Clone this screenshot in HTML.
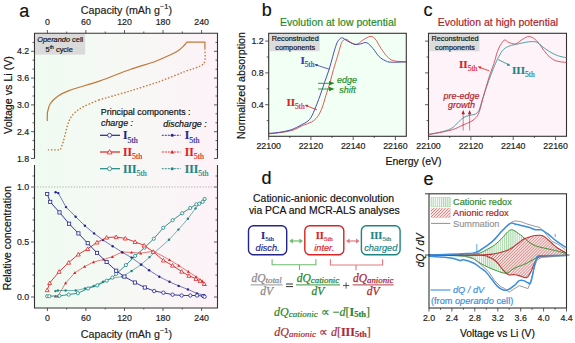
<!DOCTYPE html>
<html><head><meta charset="utf-8"><style>html,body{margin:0;padding:0;background:#fff;width:575px;height:343px;overflow:hidden}svg{display:block}</style></head>
<body><svg width="575" height="343" viewBox="0 0 575 343" font-family='"Liberation Sans", sans-serif'><defs><linearGradient id="ga" x1="0" x2="1" y1="0" y2="0"><stop offset="0" stop-color="#effbf1"/><stop offset="0.5" stop-color="#f7f8f5"/><stop offset="1" stop-color="#fdf2f8"/></linearGradient><pattern id="hg" width="2.1" height="4" patternUnits="userSpaceOnUse"><rect width="2.1" height="4" fill="#fbfdfb" fill-opacity="0.8"/><line x1="0.6" y1="0" x2="0.6" y2="4" stroke="#86c686" stroke-width="0.75"/></pattern><pattern id="hr" width="2.1" height="3" patternUnits="userSpaceOnUse" patternTransform="rotate(45)"><rect width="2.1" height="3" fill="#fffafa" fill-opacity="0.8"/><line x1="0.5" y1="0" x2="0.5" y2="3" stroke="#cc6060" stroke-width="0.75"/></pattern></defs><rect x="34.5" y="33.3" width="183.0" height="274.7" fill="url(#ga)"/><rect x="35.2" y="33.8" width="50" height="20.8" fill="#dadada"/><text x="60.2" y="41.7" font-size="7.4" fill="#111" text-anchor="middle" stroke="#111" stroke-width="0.18" ><tspan font-style="italic">Operando</tspan> cell</text><text x="59.2" y="52.3" font-size="7.4" fill="#111" text-anchor="middle" stroke="#111" stroke-width="0.18" >5<tspan font-size="5" dy="-3">th</tspan><tspan dy="3"> cycle</tspan></text><path d="M34.5,158.5 V33.3 H217.5 V158.5" fill="none" stroke="#333" stroke-width="1.1"/><path d="M34.5,165 V308 H217.5 V165" fill="none" stroke="#333" stroke-width="1.1"/><line x1="47.4" y1="33.3" x2="47.4" y2="30" stroke="#333" stroke-width="0.8"/><text x="47.4" y="25.3" font-size="8.8" fill="#222" text-anchor="middle" stroke="#222" stroke-width="0.18" >0</text><line x1="47.4" y1="308" x2="47.4" y2="311" stroke="#333" stroke-width="0.8"/><text x="47.4" y="321" font-size="8.8" fill="#222" text-anchor="middle" stroke="#222" stroke-width="0.18" >0</text><line x1="85.9" y1="33.3" x2="85.9" y2="30" stroke="#333" stroke-width="0.8"/><text x="85.94999999999999" y="25.3" font-size="8.8" fill="#222" text-anchor="middle" stroke="#222" stroke-width="0.18" >60</text><line x1="85.9" y1="308" x2="85.9" y2="311" stroke="#333" stroke-width="0.8"/><text x="85.94999999999999" y="321" font-size="8.8" fill="#222" text-anchor="middle" stroke="#222" stroke-width="0.18" >60</text><line x1="124.5" y1="33.3" x2="124.5" y2="30" stroke="#333" stroke-width="0.8"/><text x="124.5" y="25.3" font-size="8.8" fill="#222" text-anchor="middle" stroke="#222" stroke-width="0.18" >120</text><line x1="124.5" y1="308" x2="124.5" y2="311" stroke="#333" stroke-width="0.8"/><text x="124.5" y="321" font-size="8.8" fill="#222" text-anchor="middle" stroke="#222" stroke-width="0.18" >120</text><line x1="163.0" y1="33.3" x2="163.0" y2="30" stroke="#333" stroke-width="0.8"/><text x="163.04999999999998" y="25.3" font-size="8.8" fill="#222" text-anchor="middle" stroke="#222" stroke-width="0.18" >180</text><line x1="163.0" y1="308" x2="163.0" y2="311" stroke="#333" stroke-width="0.8"/><text x="163.04999999999998" y="321" font-size="8.8" fill="#222" text-anchor="middle" stroke="#222" stroke-width="0.18" >180</text><line x1="201.6" y1="33.3" x2="201.6" y2="30" stroke="#333" stroke-width="0.8"/><text x="201.6" y="25.3" font-size="8.8" fill="#222" text-anchor="middle" stroke="#222" stroke-width="0.18" >240</text><line x1="201.6" y1="308" x2="201.6" y2="311" stroke="#333" stroke-width="0.8"/><text x="201.6" y="321" font-size="8.8" fill="#222" text-anchor="middle" stroke="#222" stroke-width="0.18" >240</text><line x1="66.7" y1="33.3" x2="66.7" y2="31.5" stroke="#333" stroke-width="0.8"/><line x1="66.7" y1="308" x2="66.7" y2="309.5" stroke="#333" stroke-width="0.8"/><line x1="105.2" y1="33.3" x2="105.2" y2="31.5" stroke="#333" stroke-width="0.8"/><line x1="105.2" y1="308" x2="105.2" y2="309.5" stroke="#333" stroke-width="0.8"/><line x1="143.8" y1="33.3" x2="143.8" y2="31.5" stroke="#333" stroke-width="0.8"/><line x1="143.8" y1="308" x2="143.8" y2="309.5" stroke="#333" stroke-width="0.8"/><line x1="182.3" y1="33.3" x2="182.3" y2="31.5" stroke="#333" stroke-width="0.8"/><line x1="182.3" y1="308" x2="182.3" y2="309.5" stroke="#333" stroke-width="0.8"/><text x="126.4" y="14.2" font-size="10.7" fill="#222" text-anchor="middle" stroke="#222" stroke-width="0.18" >Capacity (mAh g<tspan font-size="7.5" dy="-5">−1</tspan><tspan dy="5">)</tspan></text><text x="126.4" y="338.2" font-size="10.7" fill="#222" text-anchor="middle" stroke="#222" stroke-width="0.18" >Capacity (mAh g<tspan font-size="7.5" dy="-5">−1</tspan><tspan dy="5">)</tspan></text><text x="24.2" y="16.5" font-size="18" fill="#111" text-anchor="middle" stroke="#111" stroke-width="0.18" >a</text><line x1="34.5" y1="51.3" x2="31" y2="51.3" stroke="#333" stroke-width="0.8"/><line x1="217.5" y1="51.3" x2="214" y2="51.3" stroke="#333" stroke-width="0.8"/><text x="29.2" y="54.4" font-size="8.8" fill="#222" text-anchor="end" stroke="#222" stroke-width="0.18" >4.2</text><line x1="34.5" y1="78.1" x2="31" y2="78.1" stroke="#333" stroke-width="0.8"/><line x1="217.5" y1="78.1" x2="214" y2="78.1" stroke="#333" stroke-width="0.8"/><text x="29.2" y="81.202" font-size="8.8" fill="#222" text-anchor="end" stroke="#222" stroke-width="0.18" >3.6</text><line x1="34.5" y1="104.9" x2="31" y2="104.9" stroke="#333" stroke-width="0.8"/><line x1="217.5" y1="104.9" x2="214" y2="104.9" stroke="#333" stroke-width="0.8"/><text x="29.2" y="108.004" font-size="8.8" fill="#222" text-anchor="end" stroke="#222" stroke-width="0.18" >3.0</text><line x1="34.5" y1="131.7" x2="31" y2="131.7" stroke="#333" stroke-width="0.8"/><line x1="217.5" y1="131.7" x2="214" y2="131.7" stroke="#333" stroke-width="0.8"/><text x="29.2" y="134.806" font-size="8.8" fill="#222" text-anchor="end" stroke="#222" stroke-width="0.18" >2.4</text><line x1="34.5" y1="158.5" x2="31" y2="158.5" stroke="#333" stroke-width="0.8"/><line x1="217.5" y1="158.5" x2="214" y2="158.5" stroke="#333" stroke-width="0.8"/><text x="29.2" y="161.60800000000003" font-size="8.8" fill="#222" text-anchor="end" stroke="#222" stroke-width="0.18" >1.8</text><line x1="34.5" y1="42.4" x2="32.5" y2="42.4" stroke="#333" stroke-width="0.8"/><line x1="217.5" y1="42.4" x2="215.5" y2="42.4" stroke="#333" stroke-width="0.8"/><line x1="34.5" y1="60.2" x2="32.5" y2="60.2" stroke="#333" stroke-width="0.8"/><line x1="217.5" y1="60.2" x2="215.5" y2="60.2" stroke="#333" stroke-width="0.8"/><line x1="34.5" y1="69.2" x2="32.5" y2="69.2" stroke="#333" stroke-width="0.8"/><line x1="217.5" y1="69.2" x2="215.5" y2="69.2" stroke="#333" stroke-width="0.8"/><line x1="34.5" y1="87.0" x2="32.5" y2="87.0" stroke="#333" stroke-width="0.8"/><line x1="217.5" y1="87.0" x2="215.5" y2="87.0" stroke="#333" stroke-width="0.8"/><line x1="34.5" y1="96.0" x2="32.5" y2="96.0" stroke="#333" stroke-width="0.8"/><line x1="217.5" y1="96.0" x2="215.5" y2="96.0" stroke="#333" stroke-width="0.8"/><line x1="34.5" y1="113.8" x2="32.5" y2="113.8" stroke="#333" stroke-width="0.8"/><line x1="217.5" y1="113.8" x2="215.5" y2="113.8" stroke="#333" stroke-width="0.8"/><line x1="34.5" y1="122.8" x2="32.5" y2="122.8" stroke="#333" stroke-width="0.8"/><line x1="217.5" y1="122.8" x2="215.5" y2="122.8" stroke="#333" stroke-width="0.8"/><line x1="34.5" y1="140.6" x2="32.5" y2="140.6" stroke="#333" stroke-width="0.8"/><line x1="217.5" y1="140.6" x2="215.5" y2="140.6" stroke="#333" stroke-width="0.8"/><line x1="34.5" y1="149.6" x2="32.5" y2="149.6" stroke="#333" stroke-width="0.8"/><line x1="217.5" y1="149.6" x2="215.5" y2="149.6" stroke="#333" stroke-width="0.8"/><text x="0" y="0" font-size="10.7" fill="#111" text-anchor="middle" stroke="#111" stroke-width="0.18" transform="translate(12.3,95) rotate(-90)">Voltage vs Li (V)</text><line x1="34.5" y1="187.0" x2="31" y2="187.0" stroke="#333" stroke-width="0.8"/><line x1="217.5" y1="187.0" x2="214" y2="187.0" stroke="#333" stroke-width="0.8"/><text x="29.2" y="190.1" font-size="8.8" fill="#222" text-anchor="end" stroke="#222" stroke-width="0.18" >1.0</text><line x1="34.5" y1="242.0" x2="31" y2="242.0" stroke="#333" stroke-width="0.8"/><line x1="217.5" y1="242.0" x2="214" y2="242.0" stroke="#333" stroke-width="0.8"/><text x="29.2" y="245.1" font-size="8.8" fill="#222" text-anchor="end" stroke="#222" stroke-width="0.18" >0.5</text><line x1="34.5" y1="297.0" x2="31" y2="297.0" stroke="#333" stroke-width="0.8"/><line x1="217.5" y1="297.0" x2="214" y2="297.0" stroke="#333" stroke-width="0.8"/><text x="29.2" y="300.1" font-size="8.8" fill="#222" text-anchor="end" stroke="#222" stroke-width="0.18" >0.0</text><line x1="34.5" y1="176.0" x2="32.5" y2="176.0" stroke="#333" stroke-width="0.8"/><line x1="217.5" y1="176.0" x2="215.5" y2="176.0" stroke="#333" stroke-width="0.8"/><line x1="34.5" y1="198.0" x2="32.5" y2="198.0" stroke="#333" stroke-width="0.8"/><line x1="217.5" y1="198.0" x2="215.5" y2="198.0" stroke="#333" stroke-width="0.8"/><line x1="34.5" y1="209.0" x2="32.5" y2="209.0" stroke="#333" stroke-width="0.8"/><line x1="217.5" y1="209.0" x2="215.5" y2="209.0" stroke="#333" stroke-width="0.8"/><line x1="34.5" y1="220.0" x2="32.5" y2="220.0" stroke="#333" stroke-width="0.8"/><line x1="217.5" y1="220.0" x2="215.5" y2="220.0" stroke="#333" stroke-width="0.8"/><line x1="34.5" y1="231.0" x2="32.5" y2="231.0" stroke="#333" stroke-width="0.8"/><line x1="217.5" y1="231.0" x2="215.5" y2="231.0" stroke="#333" stroke-width="0.8"/><line x1="34.5" y1="253.0" x2="32.5" y2="253.0" stroke="#333" stroke-width="0.8"/><line x1="217.5" y1="253.0" x2="215.5" y2="253.0" stroke="#333" stroke-width="0.8"/><line x1="34.5" y1="264.0" x2="32.5" y2="264.0" stroke="#333" stroke-width="0.8"/><line x1="217.5" y1="264.0" x2="215.5" y2="264.0" stroke="#333" stroke-width="0.8"/><line x1="34.5" y1="275.0" x2="32.5" y2="275.0" stroke="#333" stroke-width="0.8"/><line x1="217.5" y1="275.0" x2="215.5" y2="275.0" stroke="#333" stroke-width="0.8"/><line x1="34.5" y1="286.0" x2="32.5" y2="286.0" stroke="#333" stroke-width="0.8"/><line x1="217.5" y1="286.0" x2="215.5" y2="286.0" stroke="#333" stroke-width="0.8"/><line x1="34.5" y1="187" x2="217.5" y2="187" stroke="#999" stroke-width="0.8" stroke-dasharray="1.2,1.6"/><text x="0" y="0" font-size="10.5" fill="#111" text-anchor="middle" stroke="#111" stroke-width="0.18" transform="translate(11.2,238.2) rotate(-90)">Relative concentration</text><path d="M47.3,121.0 C47.3,119.6 47.0,115.3 47.5,112.4 C48.0,109.5 48.5,106.4 50.2,103.7 C51.9,101.0 54.4,98.6 57.5,96.4 C60.6,94.2 61.9,93.2 69.0,90.6 C76.1,88.0 89.8,84.4 100.0,80.9 C110.2,77.4 120.8,72.7 130.0,69.5 C139.2,66.3 148.3,63.9 155.0,61.5 C161.7,59.1 166.2,56.8 170.0,55.0 C173.8,53.2 175.5,52.4 177.7,51.0 C179.9,49.6 181.4,48.1 183.0,46.6 C184.6,45.1 186.3,42.9 187.0,42.2 H204.9 V48.4" fill="none" stroke="#c0783a" stroke-width="1.2"/><path d="M204.9,48.4 C204.9,50.4 205.6,57.7 204.9,60.6 C204.2,63.5 203.8,64.1 200.5,65.9 C197.2,67.7 191.8,68.9 185.0,71.5 C178.2,74.1 169.2,78.0 160.0,81.3 C150.8,84.5 140.0,88.0 130.0,91.0 C120.0,94.0 105.3,98.1 100.0,99.6 C94.7,101.1 101.0,99.0 98.3,100.2 C95.6,101.4 87.6,104.5 83.7,106.6 C79.8,108.6 77.5,110.1 75.0,112.5 C72.5,114.9 71.0,116.4 69.0,121.2 C67.0,126.0 64.7,136.8 63.3,141.6 C61.9,146.4 60.9,148.4 60.4,149.8 H47.9" fill="none" stroke="#c0783a" stroke-width="1.35" stroke-dasharray="1.5,1.8"/><text x="100.8" y="115.2" font-size="8.9" fill="#111" text-anchor="start" stroke="#111" stroke-width="0.18" >Principal components :</text><text x="101" y="126" font-size="8.9" fill="#111" text-anchor="start" stroke="#111" stroke-width="0.18" font-style="italic">charge :</text><text x="163.3" y="127.2" font-size="8.9" fill="#111" text-anchor="start" stroke="#111" stroke-width="0.18" font-style="italic">discharge :</text><line x1="100" y1="135.3" x2="120" y2="135.3" stroke="#24248f" stroke-width="1.2"/><circle cx="109.6" cy="135.3" r="2.0" fill="#fff" stroke="#24248f" stroke-width="0.8"/><text x="123" y="139.3" font-size="11.5" fill="#24248f" text-anchor="start" stroke="#24248f" stroke-width="0.18" font-family='"Liberation Serif", serif'><tspan font-weight="bold">I</tspan><tspan font-size="8" dy="3.3">5th</tspan></text><line x1="161.8" y1="135.3" x2="180.6" y2="135.3" stroke="#24248f" stroke-width="0.9" stroke-dasharray="2,1"/><circle cx="172.2" cy="135.3" r="1.5" fill="#24248f"/><text x="184.8" y="139.3" font-size="11.5" fill="#24248f" text-anchor="start" stroke="#24248f" stroke-width="0.18" font-family='"Liberation Serif", serif'><tspan font-weight="bold">I</tspan><tspan font-size="8" dy="3.3">5th</tspan></text><line x1="100" y1="152" x2="120" y2="152" stroke="#dc2222" stroke-width="1.2"/><path d="M109.6,149.6 L112.0,153.9 L107.2,153.9 Z" fill="#fff" stroke="#dc2222" stroke-width="0.8"/><text x="123" y="156" font-size="11.5" fill="#dc2222" text-anchor="start" stroke="#dc2222" stroke-width="0.18" font-family='"Liberation Serif", serif'><tspan font-weight="bold">II</tspan><tspan font-size="8" dy="3.3">5th</tspan></text><line x1="161.8" y1="152" x2="180.6" y2="152" stroke="#dc2222" stroke-width="0.9" stroke-dasharray="2,1"/><path d="M172.2,150.0 L174.2,153.6 L170.2,153.6 Z" fill="#dc2222"/><text x="184.8" y="156" font-size="11.5" fill="#dc2222" text-anchor="start" stroke="#dc2222" stroke-width="0.18" font-family='"Liberation Serif", serif'><tspan font-weight="bold">II</tspan><tspan font-size="8" dy="3.3">5th</tspan></text><line x1="100" y1="168.7" x2="120" y2="168.7" stroke="#1c8582" stroke-width="1.2"/><circle cx="109.6" cy="168.7" r="2.0" fill="#fff" stroke="#1c8582" stroke-width="0.8"/><text x="123" y="172.7" font-size="11.5" fill="#1c8582" text-anchor="start" stroke="#1c8582" stroke-width="0.18" font-family='"Liberation Serif", serif'><tspan font-weight="bold">III</tspan><tspan font-size="8" dy="3.3">5th</tspan></text><line x1="161.8" y1="168.7" x2="180.6" y2="168.7" stroke="#1c8582" stroke-width="0.9" stroke-dasharray="2,1"/><circle cx="172.2" cy="168.7" r="1.5" fill="#1c8582"/><text x="184.8" y="172.7" font-size="11.5" fill="#1c8582" text-anchor="start" stroke="#1c8582" stroke-width="0.18" font-family='"Liberation Serif", serif'><tspan font-weight="bold">III</tspan><tspan font-size="8" dy="3.3">5th</tspan></text><path d="M55.4,291.1 L57.9,290.5 L65.6,290.5 L75.8,290.5 L85.0,288.5 L93.7,286.0 L103.0,281.8 L112.4,278.1 L122.3,276.6 L131.6,271.0 L141.1,264.6 L149.5,257.1 L169.0,239.7 L178.4,229.6 L187.9,218.8 L195.5,208.4 L200.2,203.1 L204.0,199.9 L205.0,199.0" fill="none" stroke="#1c8582" stroke-width="0.6"/><circle cx="55.4" cy="291.1" r="1.2" fill="#1c8582"/><circle cx="57.9" cy="290.5" r="1.2" fill="#1c8582"/><circle cx="65.6" cy="290.5" r="1.2" fill="#1c8582"/><circle cx="75.8" cy="290.5" r="1.2" fill="#1c8582"/><circle cx="85.0" cy="288.5" r="1.2" fill="#1c8582"/><circle cx="93.7" cy="286.0" r="1.2" fill="#1c8582"/><circle cx="103.0" cy="281.8" r="1.2" fill="#1c8582"/><circle cx="112.4" cy="278.1" r="1.2" fill="#1c8582"/><circle cx="122.3" cy="276.6" r="1.2" fill="#1c8582"/><circle cx="131.6" cy="271.0" r="1.2" fill="#1c8582"/><circle cx="141.1" cy="264.6" r="1.2" fill="#1c8582"/><circle cx="149.5" cy="257.1" r="1.2" fill="#1c8582"/><circle cx="169.0" cy="239.7" r="1.2" fill="#1c8582"/><circle cx="178.4" cy="229.6" r="1.2" fill="#1c8582"/><circle cx="187.9" cy="218.8" r="1.2" fill="#1c8582"/><circle cx="195.5" cy="208.4" r="1.2" fill="#1c8582"/><circle cx="200.2" cy="203.1" r="1.2" fill="#1c8582"/><circle cx="204.0" cy="199.9" r="1.2" fill="#1c8582"/><circle cx="205.0" cy="199.0" r="1.2" fill="#1c8582"/><path d="M55.4,296.2 L57.9,296.2 L65.6,283.0 L74.8,272.8 L84.6,266.6 L93.5,262.0 L103.6,259.4 L112.4,256.7 L122.0,252.0 L131.5,252.4 L140.7,253.2 L153.6,251.2 L169.5,259.8 L178.7,265.5 L188.3,271.6 L196.0,276.7 L202.1,280.8 L205.2,284.9" fill="none" stroke="#dc2222" stroke-width="0.6"/><path d="M55.4,294.7 L56.9,297.4 L53.9,297.4 Z" fill="#dc2222"/><path d="M57.9,294.7 L59.4,297.4 L56.4,297.4 Z" fill="#dc2222"/><path d="M65.6,281.5 L67.1,284.2 L64.1,284.2 Z" fill="#dc2222"/><path d="M74.8,271.3 L76.3,274.0 L73.3,274.0 Z" fill="#dc2222"/><path d="M84.6,265.1 L86.1,267.8 L83.1,267.8 Z" fill="#dc2222"/><path d="M93.5,260.5 L95.0,263.2 L92.0,263.2 Z" fill="#dc2222"/><path d="M103.6,257.9 L105.1,260.6 L102.1,260.6 Z" fill="#dc2222"/><path d="M112.4,255.2 L113.9,257.9 L110.9,257.9 Z" fill="#dc2222"/><path d="M122.0,250.5 L123.5,253.2 L120.5,253.2 Z" fill="#dc2222"/><path d="M131.5,250.9 L133.0,253.6 L130.0,253.6 Z" fill="#dc2222"/><path d="M140.7,251.7 L142.2,254.4 L139.2,254.4 Z" fill="#dc2222"/><path d="M153.6,249.7 L155.1,252.4 L152.1,252.4 Z" fill="#dc2222"/><path d="M169.5,258.3 L171.0,261.0 L168.0,261.0 Z" fill="#dc2222"/><path d="M178.7,264.0 L180.2,266.7 L177.2,266.7 Z" fill="#dc2222"/><path d="M188.3,270.1 L189.8,272.8 L186.8,272.8 Z" fill="#dc2222"/><path d="M196.0,275.2 L197.5,277.9 L194.5,277.9 Z" fill="#dc2222"/><path d="M202.1,279.3 L203.6,282.0 L200.6,282.0 Z" fill="#dc2222"/><path d="M205.2,283.4 L206.7,286.1 L203.7,286.1 Z" fill="#dc2222"/><path d="M55.6,192.2 L58.3,193.1 L66.0,207.1 L75.6,216.7 L84.9,225.8 L94.1,233.4 L103.1,240.1 L112.7,246.2 L122.4,252.4 L131.6,257.6 L141.1,264.6 L149.1,270.2 L159.3,276.7 L169.5,281.8 L178.7,285.9 L187.9,289.4 L197.0,293.5 L204.2,295.1" fill="none" stroke="#24248f" stroke-width="0.6"/><circle cx="55.6" cy="192.2" r="1.2" fill="#24248f"/><circle cx="58.3" cy="193.1" r="1.2" fill="#24248f"/><circle cx="66.0" cy="207.1" r="1.2" fill="#24248f"/><circle cx="75.6" cy="216.7" r="1.2" fill="#24248f"/><circle cx="84.9" cy="225.8" r="1.2" fill="#24248f"/><circle cx="94.1" cy="233.4" r="1.2" fill="#24248f"/><circle cx="103.1" cy="240.1" r="1.2" fill="#24248f"/><circle cx="112.7" cy="246.2" r="1.2" fill="#24248f"/><circle cx="122.4" cy="252.4" r="1.2" fill="#24248f"/><circle cx="131.6" cy="257.6" r="1.2" fill="#24248f"/><circle cx="141.1" cy="264.6" r="1.2" fill="#24248f"/><circle cx="149.1" cy="270.2" r="1.2" fill="#24248f"/><circle cx="159.3" cy="276.7" r="1.2" fill="#24248f"/><circle cx="169.5" cy="281.8" r="1.2" fill="#24248f"/><circle cx="178.7" cy="285.9" r="1.2" fill="#24248f"/><circle cx="187.9" cy="289.4" r="1.2" fill="#24248f"/><circle cx="197.0" cy="293.5" r="1.2" fill="#24248f"/><circle cx="204.2" cy="295.1" r="1.2" fill="#24248f"/><path d="M47.2,296.2 L49.3,296.2 L59.5,295.8 L68.7,294.6 L77.9,293.2 L88.1,288.5 L97.3,285.4 L106.7,280.7 L112.4,277.6 L116.2,273.9 L125.9,265.1 L135.1,255.9 L144.6,247.6 L153.8,238.7 L163.3,227.8 L172.7,220.2 L182.2,213.2 L190.2,208.0 L196.4,204.3 L199.3,203.7 L202.7,201.8 L204.6,199.0" fill="none" stroke="#1c8582" stroke-width="0.9"/><circle cx="47.2" cy="296.2" r="1.6" fill="#fff" stroke="#1c8582" stroke-width="0.8"/><circle cx="49.3" cy="296.2" r="1.6" fill="#fff" stroke="#1c8582" stroke-width="0.8"/><circle cx="59.5" cy="295.8" r="1.6" fill="#fff" stroke="#1c8582" stroke-width="0.8"/><circle cx="68.7" cy="294.6" r="1.6" fill="#fff" stroke="#1c8582" stroke-width="0.8"/><circle cx="77.9" cy="293.2" r="1.6" fill="#fff" stroke="#1c8582" stroke-width="0.8"/><circle cx="88.1" cy="288.5" r="1.6" fill="#fff" stroke="#1c8582" stroke-width="0.8"/><circle cx="97.3" cy="285.4" r="1.6" fill="#fff" stroke="#1c8582" stroke-width="0.8"/><circle cx="106.7" cy="280.7" r="1.6" fill="#fff" stroke="#1c8582" stroke-width="0.8"/><circle cx="112.4" cy="277.6" r="1.6" fill="#fff" stroke="#1c8582" stroke-width="0.8"/><circle cx="116.2" cy="273.9" r="1.6" fill="#fff" stroke="#1c8582" stroke-width="0.8"/><circle cx="125.9" cy="265.1" r="1.6" fill="#fff" stroke="#1c8582" stroke-width="0.8"/><circle cx="135.1" cy="255.9" r="1.6" fill="#fff" stroke="#1c8582" stroke-width="0.8"/><circle cx="144.6" cy="247.6" r="1.6" fill="#fff" stroke="#1c8582" stroke-width="0.8"/><circle cx="153.8" cy="238.7" r="1.6" fill="#fff" stroke="#1c8582" stroke-width="0.8"/><circle cx="163.3" cy="227.8" r="1.6" fill="#fff" stroke="#1c8582" stroke-width="0.8"/><circle cx="172.7" cy="220.2" r="1.6" fill="#fff" stroke="#1c8582" stroke-width="0.8"/><circle cx="182.2" cy="213.2" r="1.6" fill="#fff" stroke="#1c8582" stroke-width="0.8"/><circle cx="190.2" cy="208.0" r="1.6" fill="#fff" stroke="#1c8582" stroke-width="0.8"/><circle cx="196.4" cy="204.3" r="1.6" fill="#fff" stroke="#1c8582" stroke-width="0.8"/><circle cx="199.3" cy="203.7" r="1.6" fill="#fff" stroke="#1c8582" stroke-width="0.8"/><circle cx="202.7" cy="201.8" r="1.6" fill="#fff" stroke="#1c8582" stroke-width="0.8"/><circle cx="204.6" cy="199.0" r="1.6" fill="#fff" stroke="#1c8582" stroke-width="0.8"/><path d="M47.2,290.1 L49.7,283.0 L59.1,271.7 L68.7,262.6 L78.3,254.4 L87.7,248.9 L97.0,242.4 L106.6,237.5 L116.2,237.0 L125.3,238.4 L135.1,241.9 L144.2,245.4 L153.2,251.8 L163.4,260.4 L172.6,265.5 L181.7,271.6 L188.9,275.7 L196.0,278.8 L200.1,280.8 L204.2,283.9" fill="none" stroke="#dc2222" stroke-width="0.9"/><path d="M47.2,288.1 L49.2,291.7 L45.2,291.7 Z" fill="#fff" stroke="#dc2222" stroke-width="0.8"/><path d="M49.7,281.0 L51.7,284.6 L47.7,284.6 Z" fill="#fff" stroke="#dc2222" stroke-width="0.8"/><path d="M59.1,269.7 L61.1,273.3 L57.1,273.3 Z" fill="#fff" stroke="#dc2222" stroke-width="0.8"/><path d="M68.7,260.6 L70.7,264.2 L66.7,264.2 Z" fill="#fff" stroke="#dc2222" stroke-width="0.8"/><path d="M78.3,252.4 L80.3,256.0 L76.3,256.0 Z" fill="#fff" stroke="#dc2222" stroke-width="0.8"/><path d="M87.7,246.9 L89.7,250.5 L85.7,250.5 Z" fill="#fff" stroke="#dc2222" stroke-width="0.8"/><path d="M97.0,240.4 L99.0,244.0 L95.0,244.0 Z" fill="#fff" stroke="#dc2222" stroke-width="0.8"/><path d="M106.6,235.5 L108.6,239.1 L104.6,239.1 Z" fill="#fff" stroke="#dc2222" stroke-width="0.8"/><path d="M116.2,235.0 L118.2,238.6 L114.2,238.6 Z" fill="#fff" stroke="#dc2222" stroke-width="0.8"/><path d="M125.3,236.4 L127.3,240.0 L123.3,240.0 Z" fill="#fff" stroke="#dc2222" stroke-width="0.8"/><path d="M135.1,239.9 L137.1,243.5 L133.1,243.5 Z" fill="#fff" stroke="#dc2222" stroke-width="0.8"/><path d="M144.2,243.4 L146.2,247.0 L142.2,247.0 Z" fill="#fff" stroke="#dc2222" stroke-width="0.8"/><path d="M153.2,249.8 L155.2,253.4 L151.2,253.4 Z" fill="#fff" stroke="#dc2222" stroke-width="0.8"/><path d="M163.4,258.4 L165.4,262.0 L161.4,262.0 Z" fill="#fff" stroke="#dc2222" stroke-width="0.8"/><path d="M172.6,263.5 L174.6,267.1 L170.6,267.1 Z" fill="#fff" stroke="#dc2222" stroke-width="0.8"/><path d="M181.7,269.6 L183.7,273.2 L179.7,273.2 Z" fill="#fff" stroke="#dc2222" stroke-width="0.8"/><path d="M188.9,273.7 L190.9,277.3 L186.9,277.3 Z" fill="#fff" stroke="#dc2222" stroke-width="0.8"/><path d="M196.0,276.8 L198.0,280.4 L194.0,280.4 Z" fill="#fff" stroke="#dc2222" stroke-width="0.8"/><path d="M200.1,278.8 L202.1,282.4 L198.1,282.4 Z" fill="#fff" stroke="#dc2222" stroke-width="0.8"/><path d="M204.2,281.9 L206.2,285.5 L202.2,285.5 Z" fill="#fff" stroke="#dc2222" stroke-width="0.8"/><path d="M47.2,194.0 L50.2,201.9 L59.5,212.4 L69.1,223.7 L78.4,233.4 L87.7,243.2 L97.0,252.9 L106.6,262.0 L116.2,270.7 L124.4,276.6 L134.9,282.5 L144.8,287.5 L154.2,291.0 L163.4,292.7 L172.6,294.7 L181.7,295.5 L190.3,295.5 L197.0,295.5 L203.2,296.1 L204.6,296.7" fill="none" stroke="#24248f" stroke-width="0.9"/><rect x="45.6" y="192.4" width="3.2" height="3.2" fill="#fff" stroke="#24248f" stroke-width="0.8"/><rect x="48.6" y="200.3" width="3.2" height="3.2" fill="#fff" stroke="#24248f" stroke-width="0.8"/><rect x="57.9" y="210.8" width="3.2" height="3.2" fill="#fff" stroke="#24248f" stroke-width="0.8"/><rect x="67.5" y="222.1" width="3.2" height="3.2" fill="#fff" stroke="#24248f" stroke-width="0.8"/><rect x="76.8" y="231.8" width="3.2" height="3.2" fill="#fff" stroke="#24248f" stroke-width="0.8"/><rect x="86.1" y="241.6" width="3.2" height="3.2" fill="#fff" stroke="#24248f" stroke-width="0.8"/><rect x="95.4" y="251.3" width="3.2" height="3.2" fill="#fff" stroke="#24248f" stroke-width="0.8"/><rect x="105.0" y="260.4" width="3.2" height="3.2" fill="#fff" stroke="#24248f" stroke-width="0.8"/><rect x="114.6" y="269.1" width="3.2" height="3.2" fill="#fff" stroke="#24248f" stroke-width="0.8"/><rect x="122.8" y="275.0" width="3.2" height="3.2" fill="#fff" stroke="#24248f" stroke-width="0.8"/><rect x="133.3" y="280.9" width="3.2" height="3.2" fill="#fff" stroke="#24248f" stroke-width="0.8"/><rect x="143.2" y="285.9" width="3.2" height="3.2" fill="#fff" stroke="#24248f" stroke-width="0.8"/><circle cx="154.2" cy="291.0" r="1.7" fill="#fff" stroke="#24248f" stroke-width="0.8"/><circle cx="163.4" cy="292.7" r="1.7" fill="#fff" stroke="#24248f" stroke-width="0.8"/><circle cx="172.6" cy="294.7" r="1.7" fill="#fff" stroke="#24248f" stroke-width="0.8"/><circle cx="181.7" cy="295.5" r="1.7" fill="#fff" stroke="#24248f" stroke-width="0.8"/><circle cx="190.3" cy="295.5" r="1.7" fill="#fff" stroke="#24248f" stroke-width="0.8"/><circle cx="197.0" cy="295.5" r="1.7" fill="#fff" stroke="#24248f" stroke-width="0.8"/><circle cx="203.2" cy="296.1" r="1.7" fill="#fff" stroke="#24248f" stroke-width="0.8"/><circle cx="204.6" cy="296.7" r="1.7" fill="#fff" stroke="#24248f" stroke-width="0.8"/><rect x="268.7" y="33.3" width="137.60000000000002" height="103.00000000000001" fill="#f2fff4"/><rect x="269.7" y="34" width="50" height="17.3" fill="#dcdcdc"/><text x="295.2" y="40.5" font-size="7.3" fill="#111" text-anchor="middle" stroke="#111" stroke-width="0.18" >Reconstructed</text><text x="295.2" y="49.8" font-size="7.3" fill="#111" text-anchor="middle" stroke="#111" stroke-width="0.18" >components</text><rect x="268.7" y="33.3" width="137.60000000000002" height="103.00000000000001" fill="none" stroke="#333" stroke-width="1.1"/><line x1="268.7" y1="136.3" x2="268.7" y2="140" stroke="#333" stroke-width="0.8"/><text x="268.7" y="148.7" font-size="8.8" fill="#222" text-anchor="middle" stroke="#222" stroke-width="0.18" >22100</text><line x1="289.8" y1="136.3" x2="289.8" y2="138" stroke="#333" stroke-width="0.8"/><line x1="310.9" y1="136.3" x2="310.9" y2="140" stroke="#333" stroke-width="0.8"/><text x="310.93333333333334" y="148.7" font-size="8.8" fill="#222" text-anchor="middle" stroke="#222" stroke-width="0.18" >22120</text><line x1="332.1" y1="136.3" x2="332.1" y2="138" stroke="#333" stroke-width="0.8"/><line x1="353.2" y1="136.3" x2="353.2" y2="140" stroke="#333" stroke-width="0.8"/><text x="353.1666666666667" y="148.7" font-size="8.8" fill="#222" text-anchor="middle" stroke="#222" stroke-width="0.18" >22140</text><line x1="374.3" y1="136.3" x2="374.3" y2="138" stroke="#333" stroke-width="0.8"/><line x1="395.4" y1="136.3" x2="395.4" y2="140" stroke="#333" stroke-width="0.8"/><text x="395.40000000000003" y="148.7" font-size="8.8" fill="#222" text-anchor="middle" stroke="#222" stroke-width="0.18" >22160</text><line x1="268.7" y1="41.1" x2="265.2" y2="41.1" stroke="#333" stroke-width="0.8"/><text x="263.7" y="44.20000000000001" font-size="8.8" fill="#222" text-anchor="end" stroke="#222" stroke-width="0.18" >1.2</text><line x1="268.7" y1="57.0" x2="266.7" y2="57.0" stroke="#333" stroke-width="0.8"/><line x1="268.7" y1="72.9" x2="265.2" y2="72.9" stroke="#333" stroke-width="0.8"/><text x="263.7" y="76.0" font-size="8.8" fill="#222" text-anchor="end" stroke="#222" stroke-width="0.18" >0.8</text><line x1="268.7" y1="88.8" x2="266.7" y2="88.8" stroke="#333" stroke-width="0.8"/><line x1="268.7" y1="104.7" x2="265.2" y2="104.7" stroke="#333" stroke-width="0.8"/><text x="263.7" y="107.8" font-size="8.8" fill="#222" text-anchor="end" stroke="#222" stroke-width="0.18" >0.4</text><line x1="268.7" y1="120.6" x2="266.7" y2="120.6" stroke="#333" stroke-width="0.8"/><rect x="428.5" y="33.3" width="138.0" height="103.00000000000001" fill="#fef3f9"/><rect x="429.5" y="34" width="50" height="17.3" fill="#dcdcdc"/><text x="455.0" y="40.5" font-size="7.3" fill="#111" text-anchor="middle" stroke="#111" stroke-width="0.18" >Reconstructed</text><text x="455.0" y="49.8" font-size="7.3" fill="#111" text-anchor="middle" stroke="#111" stroke-width="0.18" >components</text><rect x="428.5" y="33.3" width="138.0" height="103.00000000000001" fill="none" stroke="#333" stroke-width="1.1"/><line x1="428.5" y1="136.3" x2="428.5" y2="140" stroke="#333" stroke-width="0.8"/><text x="428.5" y="148.7" font-size="8.8" fill="#222" text-anchor="middle" stroke="#222" stroke-width="0.18" >22100</text><line x1="449.7" y1="136.3" x2="449.7" y2="138" stroke="#333" stroke-width="0.8"/><line x1="470.9" y1="136.3" x2="470.9" y2="140" stroke="#333" stroke-width="0.8"/><text x="470.8666666666667" y="148.7" font-size="8.8" fill="#222" text-anchor="middle" stroke="#222" stroke-width="0.18" >22120</text><line x1="492.1" y1="136.3" x2="492.1" y2="138" stroke="#333" stroke-width="0.8"/><line x1="513.2" y1="136.3" x2="513.2" y2="140" stroke="#333" stroke-width="0.8"/><text x="513.2333333333333" y="148.7" font-size="8.8" fill="#222" text-anchor="middle" stroke="#222" stroke-width="0.18" >22140</text><line x1="534.4" y1="136.3" x2="534.4" y2="138" stroke="#333" stroke-width="0.8"/><line x1="555.6" y1="136.3" x2="555.6" y2="140" stroke="#333" stroke-width="0.8"/><text x="555.6" y="148.7" font-size="8.8" fill="#222" text-anchor="middle" stroke="#222" stroke-width="0.18" >22160</text><line x1="428.5" y1="41.1" x2="425.0" y2="41.1" stroke="#333" stroke-width="0.8"/><line x1="428.5" y1="57.0" x2="426.5" y2="57.0" stroke="#333" stroke-width="0.8"/><line x1="428.5" y1="72.9" x2="425.0" y2="72.9" stroke="#333" stroke-width="0.8"/><line x1="428.5" y1="88.8" x2="426.5" y2="88.8" stroke="#333" stroke-width="0.8"/><line x1="428.5" y1="104.7" x2="425.0" y2="104.7" stroke="#333" stroke-width="0.8"/><line x1="428.5" y1="120.6" x2="426.5" y2="120.6" stroke="#333" stroke-width="0.8"/><text x="266.8" y="16.2" font-size="18" fill="#111" text-anchor="middle" stroke="#111" stroke-width="0.18" >b</text><text x="428" y="16.2" font-size="18" fill="#111" text-anchor="middle" stroke="#111" stroke-width="0.18" >c</text><text x="338" y="26" font-size="10.5" fill="#1f8c1f" text-anchor="middle" stroke="#1f8c1f" stroke-width="0.18" >Evolution at low potential</text><text x="498" y="26" font-size="10.5" fill="#b01c28" text-anchor="middle" stroke="#b01c28" stroke-width="0.18" >Evolution at high potential</text><text x="413.5" y="165" font-size="10.5" fill="#111" text-anchor="middle" stroke="#111" stroke-width="0.18" >Energy (eV)</text><text x="0" y="0" font-size="10.7" fill="#111" text-anchor="middle" stroke="#111" stroke-width="0.18" transform="translate(244.8,85.5) rotate(-90)">Normalized absorption</text><path d="M268.7,133.9 C272.4,133.4 285.2,132.2 290.8,130.8 C296.4,129.4 299.1,127.0 302.5,125.5 C305.9,124.0 309.0,123.5 311.5,122.0 C314.0,120.5 315.8,119.1 317.5,116.8 C319.2,114.5 320.6,111.5 322.0,108.0 C323.4,104.5 324.5,100.0 325.8,95.8 C327.1,91.5 328.7,86.9 330.0,82.5 C331.3,78.1 332.2,73.9 333.5,69.5 C334.8,65.1 336.3,60.2 337.5,56.3 C338.7,52.4 339.7,48.5 340.5,46.0 C341.3,43.5 341.6,42.6 342.3,41.5 C343.0,40.4 343.9,39.7 344.8,39.4 C345.7,39.1 346.6,39.3 347.5,39.8 C348.4,40.3 348.9,41.5 350.4,42.2 C351.9,43.0 354.4,44.6 356.5,44.3 C358.6,44.0 360.5,41.5 362.7,40.2 C364.9,38.9 367.8,36.8 369.8,36.5 C371.8,36.2 373.0,36.6 374.9,38.6 C376.8,40.6 379.0,45.4 381.0,48.4 C383.0,51.4 385.1,54.5 387.1,56.5 C389.2,58.5 390.2,59.7 393.3,60.6 C396.4,61.5 403.9,61.8 406.0,62.0" fill="none" stroke="#e04848" stroke-width="0.9"/><path d="M268.7,133.4 C270.3,133.2 274.8,133.1 278.5,132.5 C282.2,131.9 286.9,131.2 290.8,129.9 C294.7,128.6 298.8,126.3 301.9,124.6 C305.0,122.9 307.4,121.9 309.5,119.5 C311.6,117.1 312.8,114.0 314.5,110.0 C316.2,106.0 318.3,100.4 320.0,95.8 C321.7,91.2 323.0,86.9 324.5,82.5 C326.0,78.1 327.7,73.9 329.1,69.5 C330.5,65.1 331.6,60.5 332.8,56.3 C334.0,52.0 335.4,46.8 336.5,44.0 C337.6,41.2 338.4,40.5 339.2,39.5 C340.0,38.5 340.7,38.0 341.5,37.9 C342.3,37.8 343.2,38.2 344.0,38.6 C344.8,39.0 344.6,39.5 346.3,40.4 C348.1,41.3 352.1,43.7 354.5,44.3 C356.9,44.9 358.6,44.2 360.6,43.9 C362.6,43.6 364.6,42.0 366.7,42.7 C368.8,43.5 370.8,46.1 372.9,48.4 C374.9,50.7 377.0,54.5 379.0,56.5 C381.0,58.5 383.1,59.6 385.1,60.6 C387.1,61.6 387.7,62.0 391.2,62.2 C394.7,62.4 403.5,61.9 406.0,61.8" fill="none" stroke="#3a3aa8" stroke-width="0.9"/><text x="300.5" y="63.7" font-size="11.2" fill="#3a3aa8" text-anchor="start" stroke="#3a3aa8" stroke-width="0.18" font-family='"Liberation Serif", serif'><tspan font-weight="bold">I</tspan><tspan font-size="7.5" dy="3.3">5th</tspan></text><path d="M315.3,64.7 L329.5,69.3" stroke="#3a3aa8" stroke-width="0.8"/><path d="M314.5,64.4 l3.5,-0.4 l-1,2.5 z" fill="#3a3aa8"/><text x="286.4" y="105.5" font-size="11.2" fill="#dc2222" text-anchor="start" stroke="#dc2222" stroke-width="0.18" font-family='"Liberation Serif", serif'><tspan font-weight="bold">II</tspan><tspan font-size="7.5" dy="3.3">5th</tspan></text><path d="M305.6,105.4 L317,109.8" stroke="#dc2222" stroke-width="0.8"/><path d="M304.8,105 l3.6,-0.2 l-1.2,2.5 z" fill="#dc2222"/><line x1="318" y1="83.3" x2="330" y2="83.3" stroke="#1f8c1f" stroke-width="0.9"/><path d="M334.5,83.3 l-5.5,-2.2 v4.4 z" fill="#1f8c1f"/><line x1="318" y1="89" x2="330" y2="89" stroke="#1f8c1f" stroke-width="0.9"/><path d="M334.5,89 l-5.5,-2.2 v4.4 z" fill="#1f8c1f"/><text x="347" y="83" font-size="9" fill="#1f8c1f" text-anchor="middle" stroke="#1f8c1f" stroke-width="0.18" font-style="italic">edge</text><text x="347.5" y="93" font-size="9" fill="#1f8c1f" text-anchor="middle" stroke="#1f8c1f" stroke-width="0.18" font-style="italic">shift</text><path d="M428.5,134.2 C430.4,133.9 435.9,133.2 439.7,132.3 C443.5,131.4 448.1,130.3 451.3,128.5 C454.5,126.7 456.9,123.4 459.0,121.5 C461.1,119.6 462.3,118.3 464.0,117.3 C465.7,116.3 467.3,116.0 469.0,115.5 C470.7,115.0 472.7,115.0 474.0,114.6 C475.3,114.2 476.1,113.9 477.0,113.0 C477.9,112.1 478.6,111.3 479.5,109.0 C480.4,106.7 481.3,102.8 482.5,99.0 C483.7,95.2 485.3,90.5 486.7,86.5 C488.1,82.5 489.4,78.8 490.9,74.9 C492.4,71.0 494.2,66.4 495.6,63.3 C497.0,60.2 497.6,58.6 499.0,56.3 C500.4,54.0 501.9,51.0 503.7,49.3 C505.5,47.5 507.9,46.6 510.0,45.8 C512.1,45.0 513.4,45.0 516.5,44.3 C519.6,43.6 525.4,42.1 528.8,41.8 C532.2,41.4 534.7,41.5 536.9,42.2 C539.1,43.0 540.0,44.8 542.0,46.3 C544.0,47.8 546.7,49.9 549.2,51.4 C551.8,52.9 554.4,54.4 557.3,55.5 C560.2,56.6 565.0,57.4 566.5,57.8" fill="none" stroke="#3a9a9c" stroke-width="0.9"/><path d="M428.5,134.7 C432.3,133.9 445.6,131.6 451.3,130.0 C457.1,128.4 459.7,126.4 463.0,125.0 C466.3,123.6 468.8,122.8 471.0,121.5 C473.2,120.2 475.1,118.8 476.5,117.0 C477.9,115.2 478.5,113.8 479.5,111.0 C480.5,108.2 481.4,104.1 482.5,100.0 C483.6,95.9 485.1,90.7 486.3,86.5 C487.5,82.3 488.5,78.8 489.8,74.9 C491.1,71.0 492.7,67.2 494.0,63.3 C495.3,59.4 496.2,54.9 497.4,51.6 C498.6,48.3 500.1,45.4 501.4,43.5 C502.6,41.6 503.7,40.2 504.9,40.0 C506.1,39.8 506.6,41.6 508.4,42.2 C510.2,42.9 513.1,44.4 515.5,43.9 C517.9,43.4 520.5,40.4 522.7,39.2 C524.9,38.0 526.8,36.5 528.8,36.5 C530.8,36.5 532.9,37.6 534.9,39.2 C536.9,40.8 539.0,43.8 541.0,46.3 C543.0,48.8 544.7,52.1 547.1,54.5 C549.5,56.9 552.1,59.3 555.3,60.6 C558.5,61.9 564.6,62.2 566.5,62.5" fill="none" stroke="#d04a58" stroke-width="0.9"/><text x="459" y="68" font-size="11.2" fill="#dc2222" text-anchor="start" stroke="#dc2222" stroke-width="0.18" font-family='"Liberation Serif", serif'><tspan font-weight="bold">II</tspan><tspan font-size="7.5" dy="3.3">5th</tspan></text><path d="M478.7,67 L489.2,70.9" stroke="#dc2222" stroke-width="0.8"/><path d="M477.9,66.6 l3.6,-0.2 l-1.2,2.5 z" fill="#dc2222"/><text x="512" y="73.9" font-size="11.2" fill="#1c8582" text-anchor="start" stroke="#1c8582" stroke-width="0.18" font-family='"Liberation Serif", serif'><tspan font-weight="bold">III</tspan><tspan font-size="7.5" dy="3.3">5th</tspan></text><path d="M498.2,59.6 L509.4,65.1" stroke="#1c8582" stroke-width="0.8"/><path d="M510.4,65.6 l-3.6,0.2 l1.3,-2.5 z" fill="#1c8582"/><text x="461.5" y="98.5" font-size="9" fill="#b01c28" text-anchor="middle" stroke="#b01c28" stroke-width="0.18" font-style="italic">pre-edge</text><text x="461.5" y="107.8" font-size="9" fill="#b01c28" text-anchor="middle" stroke="#b01c28" stroke-width="0.18" font-style="italic">growth</text><line x1="463.2" y1="130.5" x2="463.2" y2="114" stroke="#b01c28" stroke-width="0.55"/><path d="M463.2,110 l-1.7,4.3 h3.4 z" fill="#b01c28"/><line x1="469.6" y1="130.5" x2="469.6" y2="114" stroke="#b01c28" stroke-width="0.55"/><path d="M469.6,110 l-1.7,4.3 h3.4 z" fill="#b01c28"/><text x="266.6" y="184.4" font-size="18" fill="#111" text-anchor="middle" stroke="#111" stroke-width="0.18" >d</text><text x="323.6" y="202.3" font-size="10.4" fill="#111" text-anchor="middle" stroke="#111" stroke-width="0.18" >Cationic-anionic deconvolution</text><text x="324.3" y="214.3" font-size="10.4" fill="#111" text-anchor="middle" stroke="#111" stroke-width="0.18" >via PCA and MCR-ALS analyses</text><rect x="248.5" y="225.8" width="38.19999999999999" height="29" rx="5" fill="#fff" stroke="#24248f" stroke-width="1.4"/><text x="267.6" y="238.8" font-size="10.5" fill="#24248f" text-anchor="middle" stroke="#24248f" stroke-width="0.18" font-family='"Liberation Serif", serif'><tspan font-weight="bold">I</tspan><tspan font-size="7" dy="2.5">5th</tspan></text><text x="267.6" y="250.5" font-size="9.2" fill="#24248f" text-anchor="middle" stroke="#24248f" stroke-width="0.18" font-style="italic">disch.</text><rect x="304.8" y="225.8" width="39.0" height="29" rx="5" fill="#fff" stroke="#dc2222" stroke-width="1.4"/><text x="324.3" y="238.8" font-size="10.5" fill="#dc2222" text-anchor="middle" stroke="#dc2222" stroke-width="0.18" font-family='"Liberation Serif", serif'><tspan font-weight="bold">II</tspan><tspan font-size="7" dy="2.5">5th</tspan></text><text x="324.3" y="250.5" font-size="9.2" fill="#dc2222" text-anchor="middle" stroke="#dc2222" stroke-width="0.18" font-style="italic">inter.</text><rect x="361.4" y="225.8" width="38.700000000000045" height="29" rx="5" fill="#fff" stroke="#1c8582" stroke-width="1.4"/><text x="380.75" y="238.8" font-size="10.5" fill="#1c8582" text-anchor="middle" stroke="#1c8582" stroke-width="0.18" font-family='"Liberation Serif", serif'><tspan font-weight="bold">III</tspan><tspan font-size="7" dy="2.5">5th</tspan></text><text x="380.75" y="250.5" font-size="9.2" fill="#1c8582" text-anchor="middle" stroke="#1c8582" stroke-width="0.18" font-style="italic">charged</text><line x1="292" y1="241" x2="300.5" y2="241" stroke="#6cbd6c" stroke-width="1.2"/><path d="M289.3,241 l3.6,-2.4 v4.8 z M303,241 l-3.6,-2.4 v4.8 z" fill="#6cbd6c"/><line x1="349" y1="241" x2="357" y2="241" stroke="#e07a80" stroke-width="1.2"/><path d="M346,241 l3.6,-2.4 v4.8 z M359.6,241 l-3.6,-2.4 v4.8 z" fill="#e07a80"/><path d="M272.1,259.2 V264.7 H315.9 V259.2 M299.5,264.7 V270" fill="none" stroke="#6cbd6c" stroke-width="1.1"/><path d="M330.4,259.2 V265 H382.6 V259.2 M356,265 V270.3" fill="none" stroke="#e07a80" stroke-width="1.1"/><text x="266.6" y="281.6" font-size="11.5" fill="#8a8a8a" text-anchor="middle" font-family='"Liberation Serif", serif' font-style="italic" stroke-width="0.25" stroke="#8a8a8a">dQ<tspan font-size="8.8" dy="1">total</tspan></text><line x1="250.60000000000002" y1="284.9" x2="282.6" y2="284.9" stroke="#8a8a8a" stroke-width="0.9"/><text x="266.6" y="295.3" font-size="11.5" fill="#8a8a8a" text-anchor="middle" font-family='"Liberation Serif", serif' font-style="italic" stroke-width="0.25" stroke="#8a8a8a">dV</text><path d="M286,284 H293 M286,286.6 H293" stroke="#333" stroke-width="1"/><text x="318" y="281.6" font-size="11.5" fill="#2a852a" text-anchor="middle" font-family='"Liberation Serif", serif' font-style="italic" stroke-width="0.25" stroke="#2a852a">dQ<tspan font-size="8.8" dy="1">cationic</tspan></text><line x1="296.0" y1="284.9" x2="340.0" y2="284.9" stroke="#2a852a" stroke-width="0.9"/><text x="318" y="295.3" font-size="11.5" fill="#2a852a" text-anchor="middle" font-family='"Liberation Serif", serif' font-style="italic" stroke-width="0.25" stroke="#2a852a">dV</text><path d="M343,285.5 H349.2 M346.1,282.4 V288.6" stroke="#444" stroke-width="0.9"/><text x="373.2" y="281.6" font-size="11.5" fill="#a82a34" text-anchor="middle" font-family='"Liberation Serif", serif' font-style="italic" stroke-width="0.25" stroke="#a82a34">dQ<tspan font-size="8.8" dy="1">anionic</tspan></text><line x1="352.7" y1="284.9" x2="393.7" y2="284.9" stroke="#a82a34" stroke-width="0.9"/><text x="373.2" y="295.3" font-size="11.5" fill="#a82a34" text-anchor="middle" font-family='"Liberation Serif", serif' font-style="italic" stroke-width="0.25" stroke="#a82a34">dV</text><text x="322" y="315.5" font-size="12" fill="#2a852a" text-anchor="middle" font-family='"Liberation Serif", serif' stroke="#2a852a" stroke-width="0.2"><tspan font-style="italic">dQ<tspan font-size="9" dy="1">cationic</tspan></tspan><tspan dy="-1"> ∝ −</tspan><tspan font-style="italic">d</tspan>[<tspan font-weight="bold">I</tspan><tspan font-size="8.5" dy="1" font-weight="bold">5th</tspan><tspan dy="-1">]</tspan></text><text x="322.5" y="335.6" font-size="12" fill="#a82a34" text-anchor="middle" font-family='"Liberation Serif", serif' stroke="#a82a34" stroke-width="0.2"><tspan font-style="italic">dQ<tspan font-size="9" dy="1">anionic</tspan></tspan><tspan dy="-1"> ∝ </tspan><tspan font-style="italic">d</tspan>[<tspan font-weight="bold">III</tspan><tspan font-size="8.5" dy="1" font-weight="bold">5th</tspan><tspan dy="-1">]</tspan></text><text x="428.5" y="184.6" font-size="18" fill="#111" text-anchor="middle" stroke="#111" stroke-width="0.18" >e</text><line x1="425" y1="255" x2="569.5" y2="255" stroke="#333" stroke-width="0.9"/><path d="M428.5,255.0 C434.9,255.0 459.8,255.1 467.0,255.0 C474.2,254.9 469.8,254.9 472.0,254.6 C474.2,254.3 477.4,253.9 480.0,253.0 C482.6,252.1 484.9,250.6 487.3,249.3 C489.7,248.0 492.2,246.8 494.6,245.0 C497.0,243.2 499.6,240.6 501.8,238.4 C504.0,236.2 506.1,233.2 507.7,231.8 C509.3,230.4 510.1,229.8 511.3,229.7 C512.5,229.6 513.2,230.0 515.0,231.1 C516.8,232.2 520.0,234.5 522.2,236.2 C524.4,237.9 526.0,239.8 528.0,241.3 C530.0,242.8 531.9,244.0 533.9,245.0 C535.9,246.0 536.5,246.2 540.0,247.1 C543.5,248.0 550.9,249.4 555.2,250.5 C559.5,251.6 563.8,252.8 565.7,253.5 C567.6,254.2 566.4,254.6 566.5,254.8 L566.5,255.2 C562.3,255.4 546.2,256.1 541.2,256.5 C536.2,256.9 538.5,256.8 536.8,257.5 C535.1,258.2 533.1,259.7 530.9,260.9 C528.7,262.1 525.9,263.6 523.7,264.6 C521.5,265.6 519.8,265.9 517.8,266.7 C515.8,267.5 513.9,268.6 512.0,269.7 C510.1,270.8 508.6,273.1 506.2,273.3 C503.8,273.5 500.4,272.1 497.5,271.1 C494.6,270.1 491.6,268.8 488.7,267.5 C485.8,266.2 482.8,264.7 480.0,263.1 C477.2,261.5 475.3,259.2 472.0,258.0 C468.7,256.8 467.2,256.5 460.0,256.0 C452.8,255.5 433.8,255.3 428.5,255.2 Z" fill="url(#hg)" stroke="none"/><path d="M428.5,255.0 C437.1,255.0 469.0,255.2 480.0,255.0 C491.0,254.8 490.2,254.4 494.6,253.7 C499.0,253.0 503.3,251.8 506.2,250.8 C509.1,249.8 510.1,249.0 512.0,247.8 C513.9,246.6 515.8,244.9 517.8,243.5 C519.8,242.1 521.8,240.2 523.7,239.1 C525.7,238.0 527.6,237.5 529.5,236.9 C531.4,236.3 533.5,235.8 535.3,235.5 C537.0,235.2 538.4,235.1 540.0,235.3 C541.6,235.5 542.8,235.6 544.7,236.9 C546.7,238.2 549.5,241.1 551.7,243.0 C553.9,244.9 555.6,246.6 557.9,248.2 C560.2,249.8 564.3,251.5 565.7,252.6 C567.1,253.7 566.4,254.4 566.5,254.8 L566.5,255.2 C562.9,255.4 549.1,256.0 544.7,256.2 C540.3,256.4 541.3,256.2 540.0,256.6 C538.7,257.0 537.8,257.4 536.8,258.7 C535.8,260.0 535.0,262.2 533.9,264.6 C532.8,267.0 531.4,271.1 530.2,273.3 C529.0,275.5 528.2,277.2 526.6,277.7 C525.0,278.2 522.8,276.7 520.8,276.2 C518.8,275.7 517.0,274.9 514.9,274.7 C512.8,274.4 510.3,275.4 508.4,274.7 C506.5,274.0 504.9,272.1 503.3,270.4 C501.7,268.7 500.3,266.3 498.9,264.6 C497.4,262.9 496.3,261.4 494.6,260.2 C492.9,259.0 491.1,258.1 488.7,257.3 C486.3,256.5 490.0,255.7 480.0,255.3 C470.0,255.0 437.1,255.2 428.5,255.2 Z" fill="url(#hr)" stroke="none"/><path d="M428.5,255.0 C434.9,255.0 459.8,255.1 467.0,255.0 C474.2,254.9 469.8,254.9 472.0,254.6 C474.2,254.3 477.4,253.9 480.0,253.0 C482.6,252.1 484.9,250.6 487.3,249.3 C489.7,248.0 492.2,246.8 494.6,245.0 C497.0,243.2 499.6,240.6 501.8,238.4 C504.0,236.2 506.1,233.2 507.7,231.8 C509.3,230.4 510.1,229.8 511.3,229.7 C512.5,229.6 513.2,230.0 515.0,231.1 C516.8,232.2 520.0,234.5 522.2,236.2 C524.4,237.9 526.0,239.8 528.0,241.3 C530.0,242.8 531.9,244.0 533.9,245.0 C535.9,246.0 536.5,246.2 540.0,247.1 C543.5,248.0 550.9,249.4 555.2,250.5 C559.5,251.6 563.8,252.8 565.7,253.5 C567.6,254.2 566.4,254.6 566.5,254.8" fill="none" stroke="#3a963a" stroke-width="1"/><path d="M566.5,255.2 C562.3,255.4 546.2,256.1 541.2,256.5 C536.2,256.9 538.5,256.8 536.8,257.5 C535.1,258.2 533.1,259.7 530.9,260.9 C528.7,262.1 525.9,263.6 523.7,264.6 C521.5,265.6 519.8,265.9 517.8,266.7 C515.8,267.5 513.9,268.6 512.0,269.7 C510.1,270.8 508.6,273.1 506.2,273.3 C503.8,273.5 500.4,272.1 497.5,271.1 C494.6,270.1 491.6,268.8 488.7,267.5 C485.8,266.2 482.8,264.7 480.0,263.1 C477.2,261.5 475.3,259.2 472.0,258.0 C468.7,256.8 467.2,256.5 460.0,256.0 C452.8,255.5 433.8,255.3 428.5,255.2" fill="none" stroke="#3a963a" stroke-width="1"/><path d="M428.5,255.0 C437.1,255.0 469.0,255.2 480.0,255.0 C491.0,254.8 490.2,254.4 494.6,253.7 C499.0,253.0 503.3,251.8 506.2,250.8 C509.1,249.8 510.1,249.0 512.0,247.8 C513.9,246.6 515.8,244.9 517.8,243.5 C519.8,242.1 521.8,240.2 523.7,239.1 C525.7,238.0 527.6,237.5 529.5,236.9 C531.4,236.3 533.5,235.8 535.3,235.5 C537.0,235.2 538.4,235.1 540.0,235.3 C541.6,235.5 542.8,235.6 544.7,236.9 C546.7,238.2 549.5,241.1 551.7,243.0 C553.9,244.9 555.6,246.6 557.9,248.2 C560.2,249.8 564.3,251.5 565.7,252.6 C567.1,253.7 566.4,254.4 566.5,254.8" fill="none" stroke="#b83232" stroke-width="1.1"/><path d="M566.5,255.2 C562.9,255.4 549.1,256.0 544.7,256.2 C540.3,256.4 541.3,256.2 540.0,256.6 C538.7,257.0 537.8,257.4 536.8,258.7 C535.8,260.0 535.0,262.2 533.9,264.6 C532.8,267.0 531.4,271.1 530.2,273.3 C529.0,275.5 528.2,277.2 526.6,277.7 C525.0,278.2 522.8,276.7 520.8,276.2 C518.8,275.7 517.0,274.9 514.9,274.7 C512.8,274.4 510.3,275.4 508.4,274.7 C506.5,274.0 504.9,272.1 503.3,270.4 C501.7,268.7 500.3,266.3 498.9,264.6 C497.4,262.9 496.3,261.4 494.6,260.2 C492.9,259.0 491.1,258.1 488.7,257.3 C486.3,256.5 490.0,255.7 480.0,255.3 C470.0,255.0 437.1,255.2 428.5,255.2" fill="none" stroke="#b83232" stroke-width="1.1"/><path d="M463.5,254.5 L474.0,254.0 L482.0,249.0 L488.7,244.0 L494.5,239.0 L501.5,231.0 L507.6,225.0 L511.3,222.4 L515.0,220.9 L520.8,221.6 L526.6,223.8 L533.9,226.0 L540.0,227.5 L544.7,232.5 L551.7,241.2 L558.7,244.7 L565.7,250.0" fill="none" stroke="#8e8e8e" stroke-width="0.9"/><path d="M463.5,256.0 L474.0,259.0 L480.0,263.8 L488.7,271.8 L494.6,280.6 L500.4,286.4 L504.7,288.6 L509.1,292.2 L513.5,289.3 L519.3,285.7 L523.7,287.1 L528.0,288.6 L530.9,280.6 L533.9,268.9 L536.8,260.2 L541.2,257.5 L565.7,255.6" fill="none" stroke="#8e8e8e" stroke-width="0.9"/><path d="M428.5,255.0 C434.9,254.8 458.9,254.1 467.0,253.6 C475.1,253.1 474.5,252.8 477.0,252.0 C479.5,251.2 480.1,250.2 482.0,249.0 C483.9,247.8 486.6,246.1 488.7,244.5 C490.8,242.9 492.4,241.7 494.5,239.5 C496.6,237.3 499.3,233.9 501.5,231.6 C503.7,229.3 506.0,226.9 507.6,225.5 C509.2,224.1 510.2,223.4 511.3,223.1 C512.4,222.8 513.1,223.6 514.2,223.8 C515.3,224.1 516.2,224.2 517.8,224.6 C519.4,225.0 521.8,225.5 523.7,226.0 C525.7,226.5 527.6,226.9 529.5,227.5 C531.4,228.1 533.3,229.3 535.3,229.7 C537.2,230.1 539.1,229.2 541.2,229.9 C543.4,230.7 546.0,232.6 548.2,234.2 C550.4,235.8 552.4,237.9 554.4,239.5 C556.4,241.1 558.6,242.6 560.5,243.9 C562.4,245.2 564.8,246.8 565.7,247.4" fill="none" stroke="#3a8ee0" stroke-width="1.5"/><path d="M428.5,256.2 C432.3,256.5 445.9,257.3 451.2,258.0 C456.4,258.7 457.9,260.3 460.0,260.6 C462.1,260.9 461.2,259.3 463.5,259.7 C465.8,260.1 471.2,261.9 474.0,263.2 C476.8,264.5 478.0,266.1 480.0,267.5 C482.0,268.9 483.9,269.9 485.8,271.8 C487.7,273.7 489.7,276.7 491.6,279.1 C493.6,281.5 495.6,284.6 497.5,286.4 C499.4,288.2 501.4,289.5 503.3,290.0 C505.2,290.5 507.2,290.2 509.1,289.3 C511.0,288.4 513.2,286.3 514.9,284.9 C516.6,283.4 517.8,281.3 519.3,280.6 C520.8,279.9 522.2,280.2 523.7,280.6 C525.2,281.0 526.9,282.3 528.0,282.8 C529.1,283.3 529.5,284.6 530.2,283.5 C530.9,282.4 531.7,279.3 532.4,276.2 C533.1,273.1 533.9,267.5 534.6,264.6 C535.3,261.7 535.9,260.2 536.8,258.7 C537.7,257.2 535.2,256.3 540.0,255.8 C544.8,255.3 561.4,255.6 565.7,255.6" fill="none" stroke="#3a8ee0" stroke-width="1.5"/><line x1="476.8" y1="244" x2="476.8" y2="252" stroke="#3a8ee0" stroke-width="0.8"/><line x1="555.2" y1="234" x2="555.2" y2="237" stroke="#3a8ee0" stroke-width="0.8"/><rect x="429" y="193.8" width="137.5" height="114.19999999999999" fill="none" stroke="#333" stroke-width="1.1"/><line x1="425" y1="193.8" x2="429" y2="193.8" stroke="#444" stroke-width="1"/><line x1="429.0" y1="308" x2="429.0" y2="311.5" stroke="#333" stroke-width="0.8"/><text x="429.0" y="321" font-size="8.8" fill="#222" text-anchor="middle" stroke="#222" stroke-width="0.18" >2.0</text><line x1="440.5" y1="308" x2="440.5" y2="309.8" stroke="#333" stroke-width="0.8"/><line x1="451.9" y1="308" x2="451.9" y2="311.5" stroke="#333" stroke-width="0.8"/><text x="451.92" y="321" font-size="8.8" fill="#222" text-anchor="middle" stroke="#222" stroke-width="0.18" >2.4</text><line x1="463.4" y1="308" x2="463.4" y2="309.8" stroke="#333" stroke-width="0.8"/><line x1="474.8" y1="308" x2="474.8" y2="311.5" stroke="#333" stroke-width="0.8"/><text x="474.84" y="321" font-size="8.8" fill="#222" text-anchor="middle" stroke="#222" stroke-width="0.18" >2.8</text><line x1="486.3" y1="308" x2="486.3" y2="309.8" stroke="#333" stroke-width="0.8"/><line x1="497.8" y1="308" x2="497.8" y2="311.5" stroke="#333" stroke-width="0.8"/><text x="497.76" y="321" font-size="8.8" fill="#222" text-anchor="middle" stroke="#222" stroke-width="0.18" >3.2</text><line x1="509.2" y1="308" x2="509.2" y2="309.8" stroke="#333" stroke-width="0.8"/><line x1="520.7" y1="308" x2="520.7" y2="311.5" stroke="#333" stroke-width="0.8"/><text x="520.6800000000001" y="321" font-size="8.8" fill="#222" text-anchor="middle" stroke="#222" stroke-width="0.18" >3.6</text><line x1="532.1" y1="308" x2="532.1" y2="309.8" stroke="#333" stroke-width="0.8"/><line x1="543.6" y1="308" x2="543.6" y2="311.5" stroke="#333" stroke-width="0.8"/><text x="543.6" y="321" font-size="8.8" fill="#222" text-anchor="middle" stroke="#222" stroke-width="0.18" >4.0</text><line x1="555.1" y1="308" x2="555.1" y2="309.8" stroke="#333" stroke-width="0.8"/><line x1="566.5" y1="308" x2="566.5" y2="311.5" stroke="#333" stroke-width="0.8"/><text x="566.52" y="321" font-size="8.8" fill="#222" text-anchor="middle" stroke="#222" stroke-width="0.18" >4.4</text><text x="497.4" y="337" font-size="10.3" fill="#111" text-anchor="middle" stroke="#111" stroke-width="0.18" >Voltage vs Li (V)</text><text x="0" y="0" font-size="10" fill="#111" text-anchor="middle" stroke="#111" stroke-width="0.18" font-style="italic" transform="translate(423.5,250.2) rotate(-90)">dQ / dV</text><rect x="431" y="197.3" width="19.4" height="9.5" fill="url(#hg)" stroke="#a8d8a8" stroke-width="0.5"/><rect x="431" y="208.2" width="19.4" height="9.5" fill="url(#hr)" stroke="#e8b0b0" stroke-width="0.5" stroke-dasharray="1,0.6"/><line x1="431" y1="223.4" x2="450.4" y2="223.4" stroke="#909090" stroke-width="1"/><text x="453" y="205.2" font-size="9.2" fill="#2a882a" text-anchor="start" stroke="#2a882a" stroke-width="0.18" >Cationic redox</text><text x="453" y="216" font-size="9.2" fill="#aa2230" text-anchor="start" stroke="#aa2230" stroke-width="0.18" >Anionic redox</text><text x="453" y="226.8" font-size="9.2" fill="#969696" text-anchor="start" stroke="#969696" stroke-width="0.18" >Summation</text><line x1="430.5" y1="290" x2="450.4" y2="290" stroke="#3a8ee0" stroke-width="1.1"/><text x="453" y="293.2" font-size="9.2" fill="#3a8ee0" text-anchor="start" stroke="#3a8ee0" stroke-width="0.18" font-style="italic">dQ / dV</text><text x="431" y="304.3" font-size="9.2" fill="#3a8ee0" text-anchor="start" stroke="#3a8ee0" stroke-width="0.18" >(from <tspan font-style="italic">operando</tspan> cell)</text></svg></body></html>
